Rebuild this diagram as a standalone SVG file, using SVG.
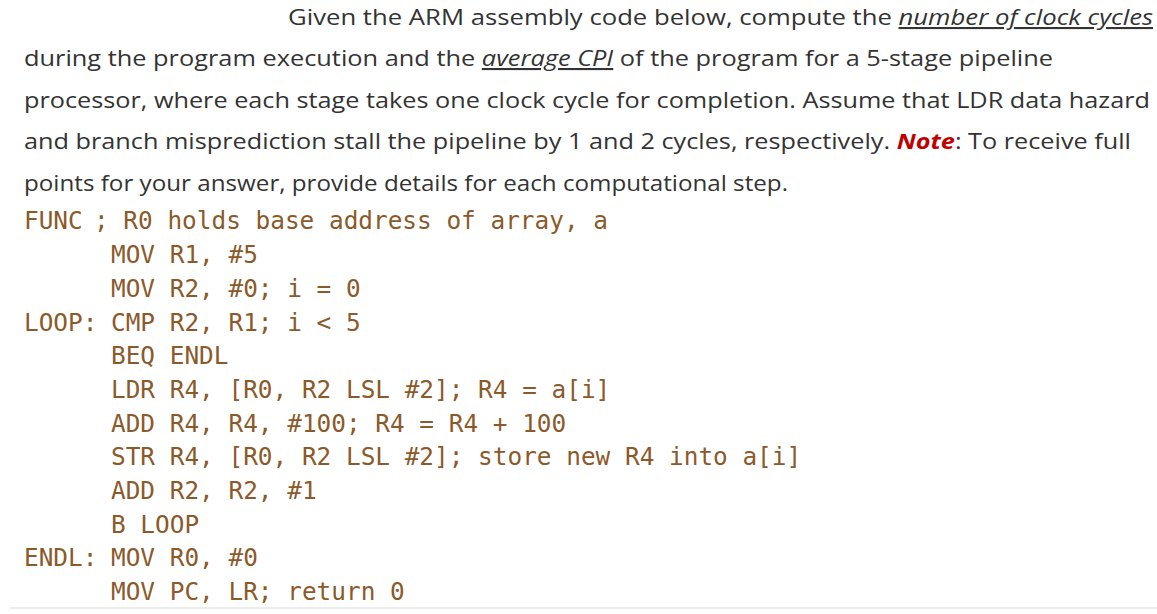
<svg xmlns="http://www.w3.org/2000/svg" width="1157" height="614" viewBox="0 0 1157 614">
<style>
.p{font-family:"Open Sans","Liberation Sans",sans-serif;font-size:21px;fill:#333}
.u{font-style:italic;text-decoration:underline}
.n{font-weight:bold;font-style:italic;fill:#c00000}
.c{font-family:"DejaVu Sans Mono","Liberation Mono",monospace;font-size:24.4px;fill:#8b5a2b}
</style>
<rect width="1157" height="614" fill="#fff"/>
<g id="question">
<text class="p" x="288" y="25" textLength="865" lengthAdjust="spacingAndGlyphs">Given the ARM assembly code below, compute the <tspan class="u">number of clock cycles</tspan></text>
<text class="p" x="24" y="66" textLength="1029" lengthAdjust="spacingAndGlyphs">during the program execution and the <tspan class="u">average CPI</tspan> of the program for a 5-stage pipeline</text>
<text class="p" x="24" y="108" textLength="1126" lengthAdjust="spacingAndGlyphs">processor, where each stage takes one clock cycle for completion. Assume that LDR data hazard</text>
<text class="p" x="24" y="149" textLength="1107" lengthAdjust="spacingAndGlyphs">and branch misprediction stall the pipeline by 1 and 2 cycles, respectively. <tspan class="n">Note</tspan>: To receive full</text>
<text class="p" x="24" y="191" textLength="764" lengthAdjust="spacingAndGlyphs">points for your answer, provide details for each computational step.</text>
</g>
<g id="code">
<text class="c" x="24" y="229">FUNC</text>
<text class="c" x="111" y="229" dx="-17">; R0 holds base address of array, a</text>
<text class="c" x="111" y="263">MOV R1, #5</text>
<text class="c" x="111" y="297">MOV R2, #0; i = 0</text>
<text class="c" x="24" y="331">LOOP:</text>
<text class="c" x="111" y="331">CMP R2, R1; i &lt; 5</text>
<text class="c" x="111" y="364">BEQ ENDL</text>
<text class="c" x="111" y="398">LDR R4, [R0, R2 LSL #2]; R4 = a[i]</text>
<text class="c" x="111" y="432">ADD R4, R4, #100; R4 = R4 + 100</text>
<text class="c" x="111" y="465">STR R4, [R0, R2 LSL #2]; store new R4 into a[i]</text>
<text class="c" x="111" y="499">ADD R2, R2, #1</text>
<text class="c" x="111" y="533">B LOOP</text>
<text class="c" x="24" y="566">ENDL:</text>
<text class="c" x="111" y="566">MOV R0, #0</text>
<text class="c" x="111" y="600">MOV PC, LR; return 0</text>
</g>
<line x1="10" y1="608" x2="1157" y2="608" stroke="#e6e6e6" stroke-width="1.5"/>
</svg>
